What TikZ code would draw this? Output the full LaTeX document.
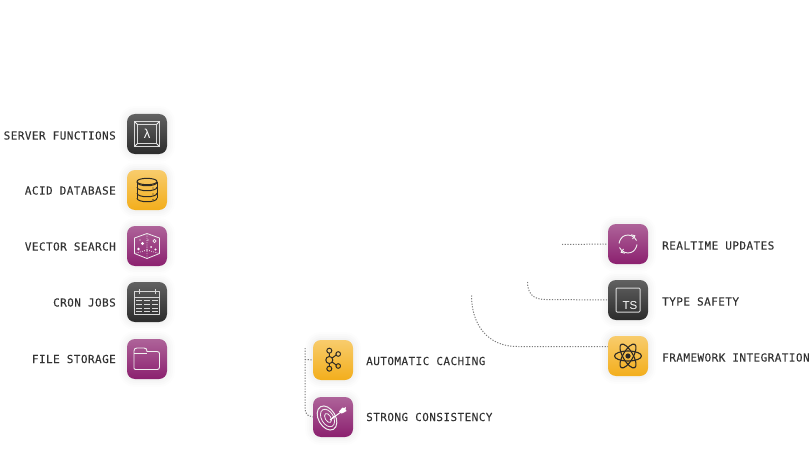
\documentclass[tikz,border=0pt]{standalone}
\usepackage{fontspec}
\setmainfont{Liberation Sans}
\newfontfamily\labelfont[LetterSpace=4,FakeBold=0.05]{DejaVu Sans Mono}
\definecolor{txt}{HTML}{333333}
\definecolor{ink}{HTML}{2E2A24}
\definecolor{conn}{HTML}{7C7C7C}
\tikzset{
  x=1pt,y=-1pt,
  softshadow/.style={
    preaction={fill=black,fill opacity=.008,draw=black,draw opacity=.008,line width=16pt,yshift=-5pt},
    preaction={fill=black,fill opacity=.01,draw=black,draw opacity=.01,line width=12pt,yshift=-5pt},
    preaction={fill=black,fill opacity=.012,draw=black,draw opacity=.012,line width=8pt,yshift=-4pt},
    preaction={fill=black,fill opacity=.015,draw=black,draw opacity=.015,line width=4pt,yshift=-3pt}},
  tile/.style={rectangle,rounded corners=8pt,minimum size=40pt,inner sep=0pt,softshadow},
  dark/.style={tile,top color=black!62,bottom color=black!83},
  amber/.style={tile,top color=amberT,bottom color=amberB},
  plum/.style={tile,top color=plumT,bottom color=plumB},
  lblL/.style={anchor=east,text=txt,font=\labelfont\fontsize{11}{13}\selectfont,inner sep=0pt},
  lblR/.style={anchor=west,text=txt,font=\labelfont\fontsize{11}{13}\selectfont,inner sep=0pt},
  linkline/.style={draw=conn,line width=1pt,dash pattern=on 1.2pt off 1.5pt},
  wht/.style={draw=white!88!gray,line width=.8pt,line join=round},
  blk/.style={draw=ink,line width=1pt,line join=round},
  lambdaicon/.pic={
    \draw[wht,draw=white!70!gray,line width=1pt] (-12.5,-12.5) rectangle (12.5,12.5);
    \draw[wht,draw=white!70!gray] (-9.5,-9.5) rectangle (9.5,9.5);
    \foreach \a/\b in {-1/-1,1/-1,1/1,-1/1}\draw[wht] (\a*9.5,\b*9.5) -- (\a*12.5,\b*12.5);
    \node[text=white,inner sep=0pt,font=\fontsize{13}{13}\selectfont] at (0,-.5) {λ};
  },
  dbicon/.pic={
    \foreach \yy in {-8,-3,3,8}{
      \draw[blk] (-10,\yy) .. controls (-10,\yy+5) and (10,\yy+5) .. (10,\yy);
    }
    \draw[blk] (0,-8.5) circle [x radius=10,y radius=3.2];
    \draw[blk] (-10,-8.5) -- (-10,8) (10,-8.5) -- (10,8);
    \fill[ink] (6,-2) circle (.6) (6,4) circle (.6) (6,9.5) circle (.6);
  },
  cubeicon/.pic={
    \draw[wht] (-12.5,-8) -- (0,-12.5) -- (12.5,-8) -- (12.5,7.5) -- (0,12.5) -- (-12.5,7.5) -- cycle;
    \draw[white!85!gray,line width=.8pt,dash pattern=on .8pt off 1.4pt] (0,-12.5) -- (0,12.5) (0,4) -- (-12.5,7.5) (0,4) -- (12.5,7.5);
    \fill[white] (-4.5,-2.5) circle (1.6) (-8.5,3) circle (1.4) (4,1) circle (1) (8.5,3.5) circle (1.2) (1,-6) circle (.6) (-7,-6) circle (.6);
    \draw[wht] (7.5,-5) circle (1.6);
  },
  calicon/.pic={
    \draw[wht,draw=white!70!gray,line width=1pt] (-12.5,-10.5) rectangle (12.5,12.5);
    \draw[wht,draw=white!70!gray] (-12.5,-5) -- (12.5,-5);
    \draw[wht,draw=white!70!gray] (-8,-13) -- (-8,-8.5) (8,-13) -- (8,-8.5);
    \foreach \xx in {-8,0,8}\foreach \yy in {-2,2,6,9.5}
      \draw[white!70!gray,line width=1pt] (\xx-2.8,\yy) -- (\xx+2.8,\yy);
  },
  foldericon/.pic={
    \draw[wht,line width=.9pt] (-13,9) -- (-13,-8) .. controls (-13,-10) and (-12,-11) .. (-10,-11) -- (-3,-11) .. controls (-1,-11) and (0,-10) .. (0,-7.5) -- (10,-7.5) .. controls (12,-7.5) and (12.5,-6.5) .. (12.5,-5) -- (12.5,8) .. controls (12.5,10) and (11.5,10.5) .. (10,10.5) -- (-11,10.5) .. controls (-12.5,10.5) and (-13,10) .. (-13,9) -- cycle;
    \draw[wht,line width=.9pt] (-13,-5.5) -- (0,-5.5);
  },
  graphicon/.pic={
    \draw[blk] (-3.7,0) -- (-3.7,-6.8) (-3.7,0) -- (3.2,-5) (-3.7,0) -- (3.2,5) (-3.7,0) -- (-3.7,6.2);
    \draw[blk,fill=amberM] (-3.7,0) circle (3.5);
    \draw[blk,fill=amberT] (-3.7,-9.3) circle (2.5) (5.2,-6) circle (2.3);
    \draw[blk,fill=amberB] (5.2,6) circle (2.3) (-3.7,8.7) circle (2.5);
  },
  targeticon/.pic={
    \draw[wht,line width=1pt] (-6,1) circle [x radius=13,y radius=8.5,rotate=-60];
    \draw[wht] (-5.5,1) circle [x radius=9.5,y radius=6,rotate=-60];
    \draw[wht] (-5,1) circle [x radius=5,y radius=2.8,rotate=-60];
    \draw[white,line width=1pt] (-3,3) -- (8,-5);
    \fill[white] (6,-5.5) -- (9.5,-9.5) -- (11,-9) -- (13,-10) -- (12.5,-7.5) -- (13.5,-6) -- (10,-4) -- (8,-3.5) -- cycle;
    \fill[white] (-3,3) -- (1,-1.5) -- (2,0) -- cycle;
  },
  syncicon/.pic={
    \draw[wht,line width=.9pt] (8.5,-3.5) .. controls (6.5,-8) and (1,-10) .. (-3,-8.5) .. controls (-6,-7.5) and (-8.5,-4) .. (-9,-.5);
    \draw[wht,line width=.9pt] (-8.5,3.5) .. controls (-6.5,8) and (-1,10) .. (3,8.5) .. controls (6,7.5) and (8.5,4) .. (9,.5);
    \draw[wht,line width=.9pt] (3,-9.2) -- (7,-8.3) -- (4.5,-5);
    \draw[wht,line width=.9pt] (-3,9.2) -- (-7,8.3) -- (-4.5,5);
  },
  tsicon/.pic={
    \draw[draw=white!70!gray,line width=1pt,rounded corners=1pt] (-12,-12) rectangle (12,12);
    \node[text=white,anchor=south east,inner sep=0pt,font=\fontsize{11.5}{11.5}\selectfont] at (9.5,10) {TS};
  },
  reacticon/.pic={
    \draw[blk,line width=1.1pt] (0,0) circle [x radius=13.5,y radius=5];
    \draw[blk,line width=1.1pt] (0,0) circle [x radius=13.5,y radius=5,rotate=60];
    \draw[blk,line width=1.1pt] (0,0) circle [x radius=13.5,y radius=5,rotate=120];
    \fill[ink] (0,0) circle (2.6);
  },
}
\definecolor{amberT}{HTML}{F8CC6C}
\definecolor{amberM}{HTML}{F6BC45}
\definecolor{amberB}{HTML}{F3AE1C}
\definecolor{plumT}{HTML}{AE6399}
\definecolor{plumB}{HTML}{8B206F}
\begin{document}
\begin{tikzpicture}
\useasboundingbox (0,0) rectangle (812,452);
% tiles
\node[dark]  (t1) at (147,134) {};
\node[amber] (t2) at (147,190) {};
\node[plum]  (t3) at (147,246) {};
\node[dark]  (t4) at (147,302) {};
\node[plum]  (t5) at (147,359) {};
\node[amber] (t6) at (333,360) {};
\node[plum]  (t7) at (333,417) {};
\node[plum]  (t8) at (628,244) {};
\node[dark]  (t9) at (628,300) {};
\node[amber] (t10) at (628,356) {};
% icons
\pic at (t1) {lambdaicon};
\pic at (t2) {dbicon};
\pic at (t3) {cubeicon};
\pic at (t4) {calicon};
\pic at (t5) {foldericon};
\pic at (t6) {graphicon};
\pic at (t7) {targeticon};
\pic at (t8) {syncicon};
\pic at (t9) {tsicon};
\pic at (t10) {reacticon};
% labels
\node[lblL] (l1) at (116,135.5) {SERVER FUNCTIONS};
\node[lblL] (l2) at (116,190.5) {ACID DATABASE};
\node[lblL] (l3) at (116,246.5) {VECTOR SEARCH};
\node[lblL] (l4) at (116,302.5) {CRON JOBS};
\node[lblL] (l5) at (116,359) {FILE STORAGE};
\node[lblR] (l6) at (366,361) {AUTOMATIC CACHING};
\node[lblR] (l7) at (366,417) {STRONG CONSISTENCY};
\node[lblR] (l8) at (662,245.5) {REALTIME UPDATES};
\node[lblR] (l9) at (662,301.5) {TYPE SAFETY};
\node[lblR] (l10) at (662,357.5) {FRAMEWORK INTEGRATION};
% connector free ends
\coordinate (c8) at (562,244.5);
\coordinate (c9) at (527.5,282);
\coordinate (c10) at (471.5,295.5);
\coordinate (c6) at (305,348);
% connectors
\draw[linkline] (c8) -- (t8.west);
\draw[linkline] (c9) .. controls (527.5,293) and (533,299.5) .. (545,299.5) -- (t9.west);
\draw[linkline] (c10) .. controls (471.5,325) and (488,346.5) .. (517,346.5) -- ([yshift=9.5pt]t10.west);
\draw[linkline] (c6) -- (305,407) .. controls (305,413) and (307,416.5) .. (312,416.5) -- (t7.west);
\draw[linkline] (305,359.5) -- (t6.west);
\end{tikzpicture}
\end{document}
